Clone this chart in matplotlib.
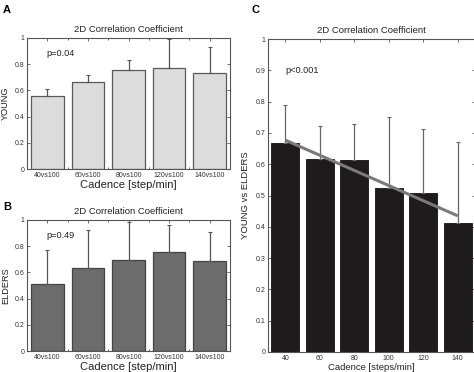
import matplotlib
matplotlib.use("Agg")
import matplotlib.pyplot as plt
import numpy as np
from matplotlib.ticker import FixedLocator

plt.rcParams['font.family'] = ['Liberation Sans', 'DejaVu Sans']

# ---- data ----
ab_categories = ["40vs100", "60vs100", "80vs100", "120vs100", "140vs100"]
young_mean = [0.556, 0.663, 0.757, 0.770, 0.736]
young_err_top = [0.612, 0.719, 0.830, 0.992, 0.932]
elders_mean = [0.515, 0.635, 0.693, 0.754, 0.685]
elders_err_top = [0.770, 0.922, 0.985, 0.963, 0.905]

c_cadence = [40, 60, 80, 100, 120, 140]
ye_mean = [0.669, 0.616, 0.613, 0.523, 0.507, 0.413]
ye_err_top = [0.788, 0.722, 0.727, 0.752, 0.713, 0.671]
fit_x = [40, 140]
fit_y = [0.677, 0.435]

W, H = 474, 372
fig = plt.figure(figsize=(W/100, H/100), dpi=100)

spine_col = '#555555'
tick_fs = 5.0

def style_axes(ax):
    for s in ax.spines.values():
        s.set_color(spine_col)
        s.set_linewidth(0.8)
    ax.tick_params(which='both', direction='in', top=True, right=True,
                   colors=spine_col, labelcolor='#333333', labelsize=tick_fs,
                   width=0.6, pad=2)
    ax.tick_params(which='major', length=2.2)
    ax.tick_params(which='minor', length=1.5)

def ab_panel(rect, means, tops, fill, edge, errcol, ylabel, ptext):
    ax = fig.add_axes(rect)
    x = np.arange(1, len(means) + 1)
    ax.bar(x, means, width=0.8, color=fill, edgecolor=edge, linewidth=0.9, zorder=2)
    err = np.array(tops) - np.array(means)
    ax.errorbar(x, means, yerr=[np.zeros_like(err), err], fmt='none',
                ecolor=errcol, elinewidth=0.9, capsize=1.5, capthick=0.8, zorder=3)
    ax.set_xlim(0.5, len(means) + 0.5)
    ax.set_ylim(0, 1)
    ax.set_xticks(x)
    ax.set_xticklabels(ab_categories)
    ax.xaxis.set_minor_locator(FixedLocator(x[:-1] + 0.5))
    ax.set_yticks([0, 0.2, 0.4, 0.6, 0.8, 1])
    ax.set_yticklabels(["0", "0.2", "0.4", "0.6", "0.8", "1"])
    style_axes(ax)
    ax.set_xlabel("Cadence [step/min]", fontsize=8, color='#222222', labelpad=1)
    ax.set_ylabel(ylabel, fontsize=6.6, color='#222222', labelpad=3)
    ax.set_title("2D Correlation Coefficient", fontsize=6.8, color='#222222', pad=4)
    ax.text(0.97, 0.885, ptext, fontsize=6.6, color='#222222', va='center', ha='left')
    return ax

axA = ab_panel([27/W, 1 - 169/H, 203/W, 131/H], young_mean, young_err_top,
               '#dcdcdc', '#5a5a5a', '#555555', "YOUNG", "p=0.04")
axB = ab_panel([27/W, 1 - 351/H, 203/W, 131/H], elders_mean, elders_err_top,
               '#6c6c6c', '#444444', '#555555', "ELDERS", "p=0.49")

# Panel C
axC = fig.add_axes([268/W, 1 - 352/H, 207/W, 313/H])
xc = np.array(c_cadence)
axC.bar(xc, ye_mean, width=16, color='#1f1b1c', edgecolor='#111111', linewidth=0.6, zorder=2)
errc = np.array(ye_err_top) - np.array(ye_mean)
axC.errorbar(xc, ye_mean, yerr=[np.zeros_like(errc), errc], fmt='none',
             ecolor='#666666', elinewidth=0.9, capsize=1.2, capthick=0.8, zorder=3)
axC.plot(fit_x, fit_y, color='#7a7a7a', linewidth=2.2, zorder=4, solid_capstyle='butt')
axC.set_xlim(30, 150)
axC.set_ylim(0, 1)
axC.set_xticks(c_cadence)
axC.set_xticklabels([str(c) for c in c_cadence])
axC.set_yticks(np.round(np.arange(0, 1.01, 0.1), 1))
axC.set_yticklabels(["0"] + ["%.1f" % v for v in np.arange(0.1, 0.95, 0.1)] + ["1"])
style_axes(axC)
axC.set_xlabel("Cadence [steps/min]", fontsize=6.8, color='#222222', labelpad=1)
axC.set_ylabel("YOUNG vs ELDERS", fontsize=6.8, color='#222222', labelpad=4)
axC.set_title("2D Correlation Coefficient", fontsize=6.8, color='#222222', pad=4)
axC.text(40, 0.9, "p<0.001", fontsize=6.6, color='#222222', va='center', ha='left')

# Panel letters
fig.text(3/W, 1 - 10/H, "A", fontsize=8, fontweight='bold', va='center', ha='left')
fig.text(3/W, 1 - 207/H, "B", fontsize=8, fontweight='bold', va='center', ha='left')
fig.text(251/W, 1 - 10/H, "C", fontsize=8, fontweight='bold', va='center', ha='left')

fig.savefig("out.png", dpi=100)
